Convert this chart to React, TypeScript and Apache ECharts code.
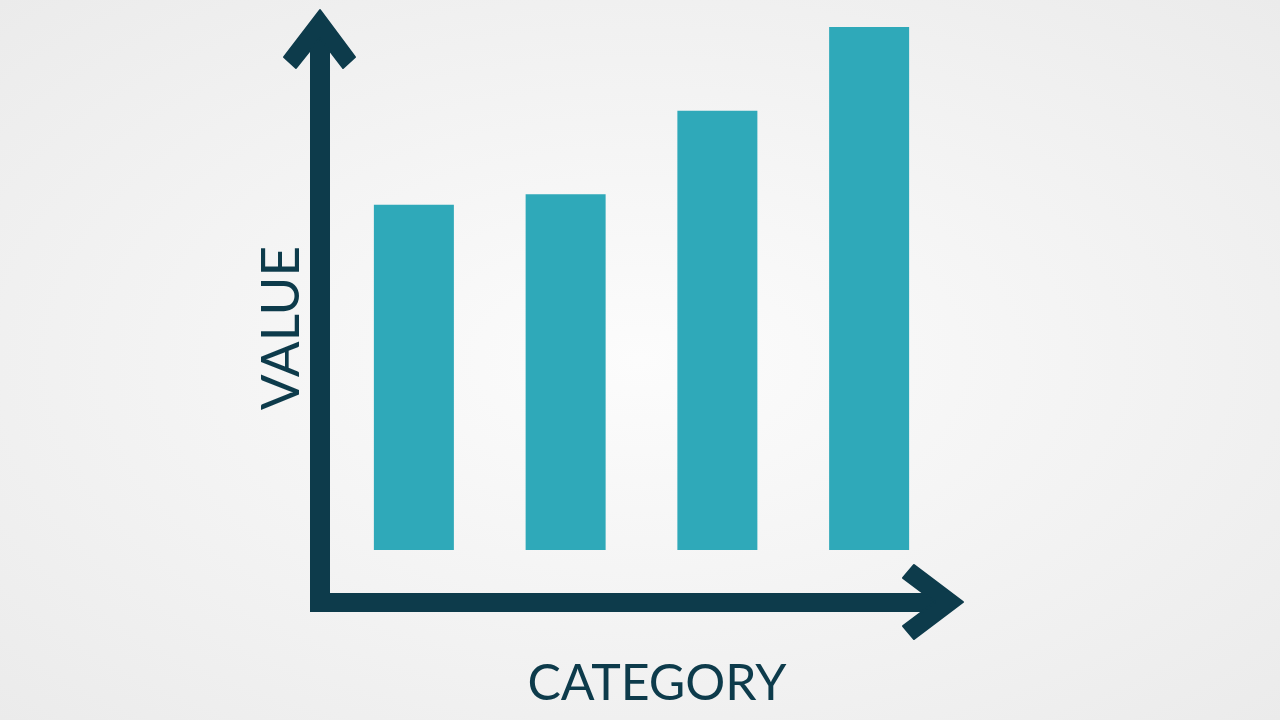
import React, { useEffect, useRef } from "react";
import * as echarts from "echarts";

const categories: string[] = ["A", "B", "C", "D"];
const values: number[] = [66, 68, 84, 100];
const axisTitleX = "CATEGORY";
const axisTitleY = "VALUE";

const DARK = "#0d3b4b";
const TEAL = "#2fa9b9";

export default function App() {
  const ref = useRef<HTMLDivElement>(null);
  useEffect(() => {
    if (!ref.current) return;
    const chart = echarts.init(ref.current, undefined, { renderer: "svg" });
    chart.setOption({
      animation: false,
      backgroundColor: new echarts.graphic.RadialGradient(0.5, 0.5, 0.75, [
        { offset: 0, color: "#fcfcfc" },
        { offset: 1, color: "#eaeaea" },
      ]),
      grid: { left: 338, right: 335, top: 27, bottom: 170, containLabel: false },
      xAxis: {
        type: "category",
        data: categories,
        axisLine: { show: false },
        axisTick: { show: false },
        axisLabel: { show: false },
      },
      yAxis: {
        type: "value",
        min: 0,
        max: 100,
        axisLine: { show: false },
        axisTick: { show: false },
        axisLabel: { show: false },
        splitLine: { show: false },
      },
      series: [
        {
          type: "bar",
          data: values,
          barWidth: 80,
          itemStyle: { color: TEAL },
        },
      ],
      graphic: [
        { type: "rect", shape: { x: 310, y: 30, width: 20, height: 582 }, style: { fill: DARK } },
        { type: "rect", shape: { x: 310, y: 593, width: 630, height: 19 }, style: { fill: DARK } },
        {
          type: "polygon",
          shape: {
            points: [
              [320, 10],
              [355, 57],
              [343, 68],
              [320, 38],
              [296, 68],
              [284, 57],
            ],
          },
          style: { fill: DARK, stroke: DARK, lineWidth: 2, lineJoin: "round" },
        },
        {
          type: "polygon",
          shape: {
            points: [
              [963, 602],
              [914, 565],
              [903, 578],
              [935, 602],
              [903, 626],
              [914, 639],
            ],
          },
          style: { fill: DARK, stroke: DARK, lineWidth: 2, lineJoin: "round" },
        },
        {
          type: "text",
          x: 657,
          y: 681,
          style: {
            text: axisTitleX,
            fill: DARK,
            font: "normal 50px Lato, 'DejaVu Sans', sans-serif",
            textAlign: "center",
            textVerticalAlign: "middle",
          },
        },
        {
          type: "text",
          x: 278,
          y: 328,
          rotation: Math.PI / 2,
          style: {
            text: axisTitleY,
            fill: DARK,
            font: "normal 53px Lato, 'DejaVu Sans', sans-serif",
            textAlign: "center",
            textVerticalAlign: "middle",
          },
        },
      ],
    });
    return () => chart.dispose();
  }, []);
  return (
    <div
      ref={ref}
      style={{ position: "absolute", left: 0, top: 0, width: 1280, height: 720 }}
    />
  );
}
